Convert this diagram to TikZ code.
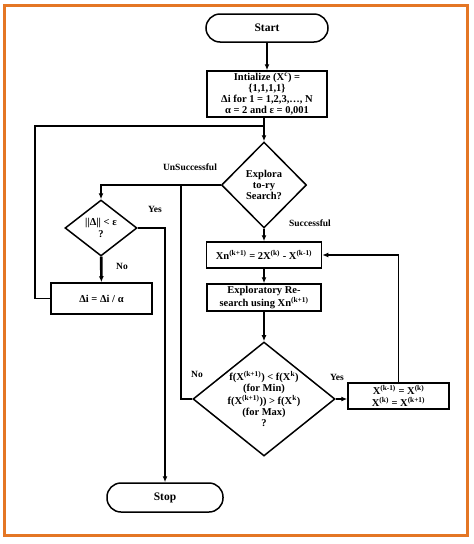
\documentclass[tikz,border=0pt]{standalone}
\usepackage{fontspec}
\setmainfont{Liberation Serif}
\usetikzlibrary{shapes.geometric,arrows.meta}
\definecolor{frameorange}{RGB}{228,118,36}

\begin{document}
\begin{tikzpicture}[x=1pt,y=1pt,yscale=-1,xscale=1,
  every node/.style={font=\bfseries\fontsize{10.5}{11.2}\selectfont, align=center},
  term/.style={draw, line width=1.5pt, rounded corners=14pt, minimum width=122pt, minimum height=28pt, inner sep=0pt},
  proc/.style={draw, line width=1.5pt, inner sep=1pt},
  decide/.style={draw, diamond, line width=1.5pt, inner sep=0pt},
  flow/.style={line width=1.5pt, -{Latex[length=6pt,width=5pt]}},
  link/.style={line width=1.5pt},
  lbl/.style={font=\bfseries\fontsize{9.5}{10}\selectfont, inner sep=0pt}
]
\useasboundingbox (0,0) rectangle (474,544);
%Frame
\draw [frameorange, line width=3pt] (4,5) rectangle (467,535);

%Shape: Terminal
\node [term] (start) at (267,28) {\fontsize{11.5}{12}\selectfont Start};
%Shape: Rectangle
\node [proc, minimum width=120pt, minimum height=46pt] (init) at (267,94)
  {Intialize (X\textsuperscript{c}) =\\\{1,1,1,1\}\\Δi for 1 = 1,2,3,…, N\\α = 2 and ε = 0,001};
%Shape: Diamond
\node [decide, minimum width=85pt, minimum height=86pt] (explo) at (264,185) {Explora\\to-ry\\Search?};
%Shape: Rectangle
\node [proc, minimum width=115pt, minimum height=26pt] (xn) at (264,255)
  {Xn\textsuperscript{(k+1)} = 2X\textsuperscript{(k)} - X\textsuperscript{(k-1)}};
%Shape: Rectangle
\node [proc, minimum width=114pt, minimum height=27pt] (exp) at (264,297.5)
  {Exploratory Re-\\search using Xn\textsuperscript{(k+1)}};
%Shape: Diamond
\node [decide, aspect=1.25, minimum width=142pt, minimum height=114pt] (fcmp) at (264,399)
  {f(X\textsuperscript{(k+1)}) < f(X\textsuperscript{k})\\(for Min)\\f(X\textsuperscript{(k+1)})) > f(X\textsuperscript{k})\\(for Max)\\?};
%Shape: Rectangle
\node [proc, minimum width=101pt, minimum height=26pt] (swap) at (398.5,396)
  {X\textsuperscript{(k-1)} = X\textsuperscript{(k)}\\X\textsuperscript{(k)} = X\textsuperscript{(k+1)}};
%Shape: Diamond
\node [decide, minimum width=72pt, minimum height=56pt] (small) at (101,228) {||Δ|| < ε\\?};
%Shape: Rectangle
\node [proc, minimum width=101pt, minimum height=31pt] (shrink) at (101.5,298.5) {Δi = Δi / α};
%Shape: Terminal
\node [term, minimum width=116pt, minimum height=29pt] (stop) at (165,497.5) {\fontsize{11.5}{12}\selectfont Stop};

% Text Node
\node [lbl] (unsucc) at (190,167) {UnSuccessful};
\node [lbl] (succ) at (310,223) {Successful};
\node [lbl] (yesa) at (155,209) {Yes};
\node [lbl] (noa) at (122,266) {No};
\node [lbl] (nob) at (197,374) {No};
\node [lbl] (yesb) at (337,377) {Yes};

\coordinate (corner) at (35,126);
\coordinate (join) at (264,126);
\coordinate (back) at (181,186);

%Straight Lines
\draw [flow] (start) -- (start |- init.north);
\draw [flow] (init.south -| explo.north) -- (explo.north);
\draw [link] (shrink.west) -| (corner) -- (join);
\draw [flow] (explo) -- (xn);
\draw [flow] (xn) -- (exp);
\draw [flow] (exp) -- (fcmp);
\draw [flow] (explo.west) -| (small.north);
\draw [link] (fcmp.west) -| (back);
\draw [flow] (small.east) -| (stop.north);
\draw [flow, line width=2.6pt] (small) -- (shrink);
\draw [flow] (fcmp.east) -- (fcmp.east -| swap.west);
\draw [flow] (swap.north) |- (xn.east);

\end{tikzpicture}
\end{document}
